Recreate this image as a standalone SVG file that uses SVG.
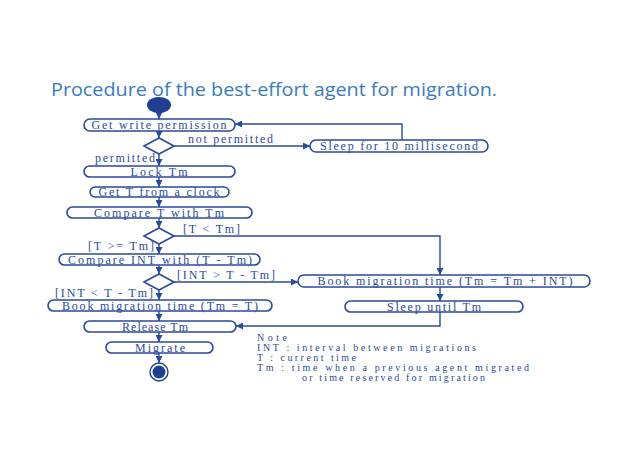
<svg xmlns="http://www.w3.org/2000/svg" width="638" height="451" viewBox="0 0 638 451">
<style>
.b{fill:#fff;stroke:#2b4a9a;stroke-width:1.6}
.d{fill:#fff;stroke:#2b4a9a;stroke-width:1.6}
.c{fill:none;stroke:#2b4a9a;stroke-width:1.4}
text{font-family:"Liberation Serif",serif;font-size:12px;fill:#2b4a9a}
.m{text-anchor:middle}
.n{font-size:10px}
</style>
<defs><marker id="a" viewBox="0 0 10 10" refX="10" refY="5" markerWidth="7" markerHeight="7" markerUnits="userSpaceOnUse" orient="auto"><path d="M0,0L10,5L0,10z" fill="#2b4a9a"/></marker></defs>
<rect width="638" height="451" fill="#fff"/>
<text x="51" y="96" style="font-family:'Open Sans','Liberation Sans',sans-serif;font-size:18px;fill:#3a7cc0" textLength="446" lengthAdjust="spacingAndGlyphs">Procedure of the best-effort agent for migration.</text>
<g id="connectors">
<path class="c" marker-end="url(#a)" d="M159,113V119"/>
<path class="c" marker-end="url(#a)" d="M159,131V138"/>
<path class="c" marker-end="url(#a)" d="M174,146H310"/>
<path class="c" marker-end="url(#a)" d="M402,140V124H235"/>
<path class="c" marker-end="url(#a)" d="M159,154V166"/>
<path class="c" marker-end="url(#a)" d="M159,177V187"/>
<path class="c" marker-end="url(#a)" d="M159,197V207"/>
<path class="c" marker-end="url(#a)" d="M159,218V228"/>
<path class="c" marker-end="url(#a)" d="M174,236H440V275"/>
<path class="c" marker-end="url(#a)" d="M159,244V254"/>
<path class="c" marker-end="url(#a)" d="M159,265V274"/>
<path class="c" marker-end="url(#a)" d="M174,282H298"/>
<path class="c" marker-end="url(#a)" d="M159,290V300"/>
<path class="c" marker-end="url(#a)" d="M440,287V301"/>
<path class="c" marker-end="url(#a)" d="M440,312V326H236"/>
<path class="c" marker-end="url(#a)" d="M159,311V321"/>
<path class="c" marker-end="url(#a)" d="M159,332V342"/>
<path class="c" marker-end="url(#a)" d="M159,353V363"/>
</g>
<g id="start"><ellipse cx="159" cy="105" rx="12" ry="8" fill="#1f3f94"/></g>
<g id="n1"><rect class="b" x="84" y="119" width="151" height="12" rx="6"/><text class="m" x="159" y="129" textLength="135">Get write permission</text></g>
<g id="dec1"><path class="d" d="M144,146L159,138L174,146L159,154Z"/></g>
<text x="188" y="143" textLength="85">not permitted</text>
<text x="95" y="162" textLength="60">permitted</text>
<g id="sleep10"><rect class="b" x="310" y="140" width="178" height="12" rx="6"/><text class="m" x="399" y="150" textLength="158">Sleep for 10 millisecond</text></g>
<g id="lock"><rect class="b" x="84" y="166" width="151" height="11" rx="5.5"/><text class="m" x="159" y="175.5" textLength="57">Lock Tm</text></g>
<g id="gett"><rect class="b" x="90" y="187" width="139" height="10" rx="5"/><text class="m" x="159" y="196" textLength="121">Get T from a clock</text></g>
<g id="cmp1"><rect class="b" x="67" y="207" width="185" height="11" rx="5.5"/><text class="m" x="159" y="216.5" textLength="130">Compare T with Tm</text></g>
<g id="dec2"><path class="d" d="M144,236L159,228L174,236L159,244Z"/></g>
<text x="183" y="233" textLength="57">[T &lt; Tm]</text>
<text x="88" y="250" textLength="66">[T &gt;= Tm]</text>
<g id="cmp2"><rect class="b" x="59" y="254" width="201" height="11" rx="5.5"/><text class="m" x="160" y="263.5" textLength="184">Compare INT with (T - Tm)</text></g>
<g id="dec3"><path class="d" d="M144,282L159,274L174,282L159,290Z"/></g>
<text x="177" y="279" textLength="98">[INT &gt; T - Tm]</text>
<text x="55" y="297" textLength="98">[INT &lt; T - Tm]</text>
<g id="book2"><rect class="b" x="298" y="275" width="292" height="12" rx="6"/><text class="m" x="445" y="285" textLength="255">Book migration time (Tm = Tm + INT)</text></g>
<g id="book1"><rect class="b" x="48" y="300" width="224" height="11" rx="5.5"/><text class="m" x="160" y="309.5" textLength="196">Book migration time (Tm = T)</text></g>
<g id="sleepu"><rect class="b" x="345" y="301" width="178" height="11" rx="5.5"/><text class="m" x="434" y="310.5" textLength="94">Sleep until Tm</text></g>
<g id="release"><rect class="b" x="84" y="321" width="152" height="11" rx="5.5"/><text class="m" x="155" y="330.5" textLength="66">Release Tm</text></g>
<g id="migrate"><rect class="b" x="106" y="342" width="107" height="11" rx="5.5"/><text class="m" x="160" y="351.5" textLength="50">Migrate</text></g>
<g id="end"><circle cx="159" cy="372" r="9" fill="#fff" stroke="#1f3f94" stroke-width="1.4"/><circle cx="159" cy="372" r="6.5" fill="#1f3f94"/></g>
<g id="note">
<text class="n" x="257" y="341" textLength="30">Note</text>
<text class="n" x="257" y="351" textLength="219">INT : interval between migrations</text>
<text class="n" x="257" y="361" textLength="99">T : current time</text>
<text class="n" x="257" y="371" textLength="272">Tm : time when a previous agent migrated</text>
<text class="n" x="302" y="380.5" textLength="183">or time reserved for migration</text>
</g>
</svg>
